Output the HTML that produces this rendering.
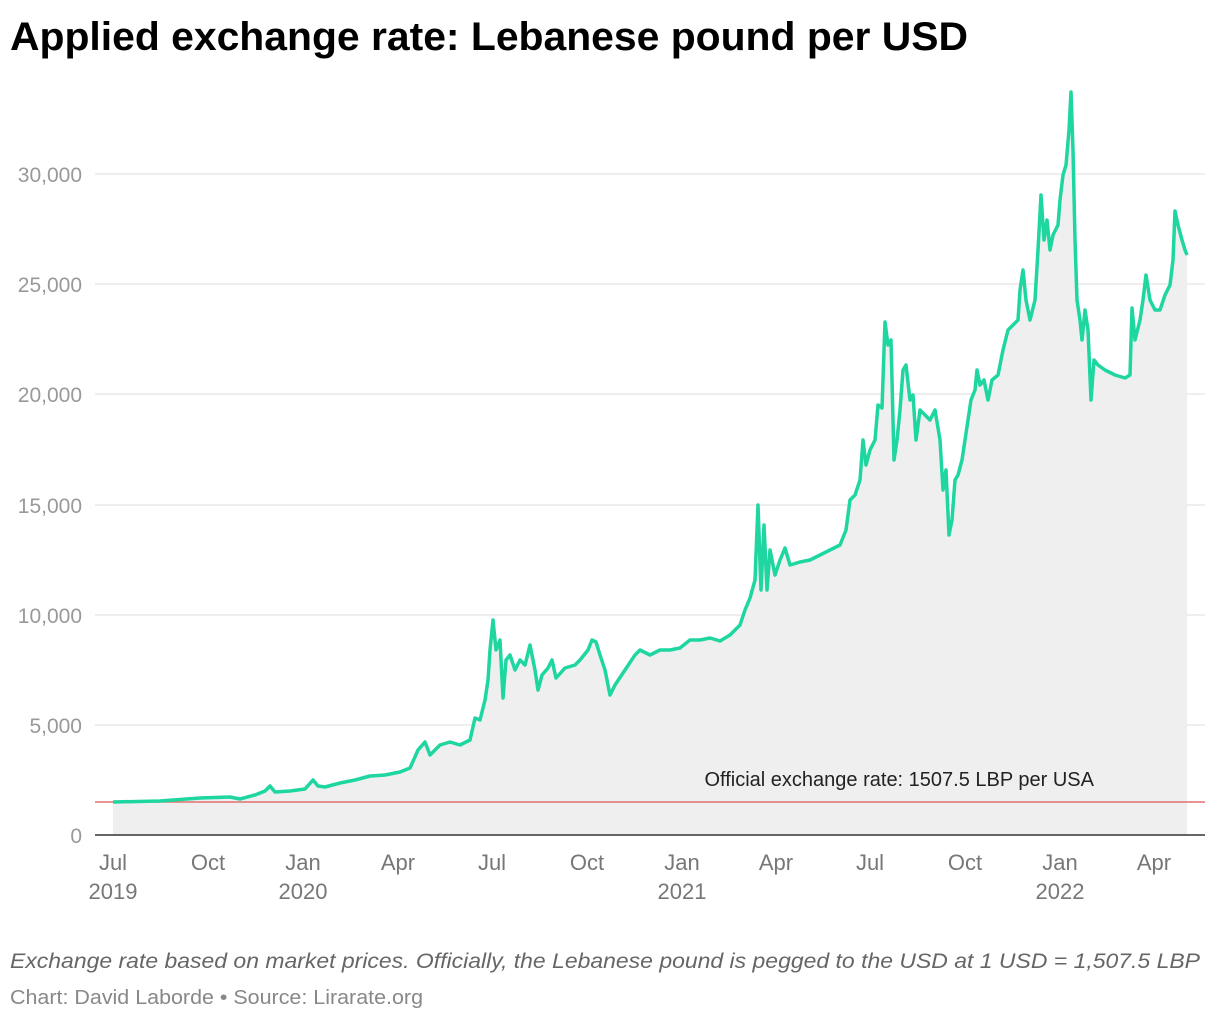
<!DOCTYPE html>
<html><head><meta charset="utf-8"><style>
body{margin:0;background:#fff;width:1220px;height:1020px;overflow:hidden;font-family:"Liberation Sans",sans-serif;}
</style></head><body>
<svg width="1220" height="1020" xmlns="http://www.w3.org/2000/svg" style="position:absolute;left:0;top:0">
<text x="10" y="50" font-size="40" font-weight="bold" fill="#000" textLength="958" lengthAdjust="spacingAndGlyphs" font-family="Liberation Sans, sans-serif">Applied exchange rate: Lebanese pound per USD</text>
<g stroke="#dcdcdc" stroke-width="1">
<line x1="95" x2="1205" y1="174" y2="174"/><line x1="95" x2="1205" y1="284" y2="284"/>
<line x1="95" x2="1205" y1="394" y2="394"/><line x1="95" x2="1205" y1="505" y2="505"/>
<line x1="95" x2="1205" y1="615" y2="615"/><line x1="95" x2="1205" y1="725" y2="725"/>
</g>
<g font-size="21" fill="#999" text-anchor="end" font-family="Liberation Sans, sans-serif">
<text x="82" y="182">30,000</text><text x="82" y="292">25,000</text><text x="82" y="402">20,000</text>
<text x="82" y="513">15,000</text><text x="82" y="623">10,000</text><text x="82" y="733">5,000</text><text x="82" y="843">0</text>
</g>
<polygon fill="#efefef" points="113,835 113,802 160,801 200,798 230,797 240,799 255,795 265,791 270,786 275,792 290,791 305,789 313,780 318,786 325,787 340,783 355,780 370,776 385,775 400,772 410,768 418,750 425,742 430,755 440,745 450,742 460,745 470,740 475,718 480,720 485,700 488,680 490,650 493,620 496,650 500,640 503,698 506,660 510,655 515,670 520,660 525,665 530,645 535,670 538,690 542,675 548,668 552,660 556,678 565,668 575,665 580,660 588,650 592,640 596,642 600,655 605,670 610,695 615,685 625,670 635,655 640,650 650,655 660,650 670,650 680,648 690,640 700,640 710,638 720,641 730,635 740,625 745,610 750,598 755,580 758,505 761,590 764,525 767,590 770,550 775,575 780,560 785,548 790,565 800,562 810,560 820,555 830,550 840,545 846,530 850,500 855,495 860,480 863,440 866,465 870,450 875,440 878,405 882,408 885,322 888,345 891,340 894,460 897,440 900,410 903,370 906,365 910,400 913,395 916,440 920,410 925,415 930,420 935,410 940,440 943,490 946,470 949,535 952,520 955,480 958,475 962,460 965,440 968,420 971,400 975,390 977,370 980,385 984,380 988,400 992,380 998,375 1003,350 1008,330 1013,325 1018,320 1020,290 1023,270 1026,300 1030,320 1035,300 1038,250 1041,195 1044,240 1047,220 1050,250 1053,235 1058,225 1060,200 1063,175 1066,165 1069,130 1071,92 1073,150 1075,240 1077,300 1080,320 1082,340 1085,310 1088,330 1091,400 1094,360 1098,365 1105,370 1115,375 1125,378 1130,375 1132,308 1135,340 1140,320 1143,300 1146,275 1150,300 1155,310 1160,310 1165,295 1170,285 1173,260 1175,211 1178,225 1182,240 1185,250 1187,255 1187,835"/>
<line x1="95" x2="1205" y1="802" y2="802" stroke="#e07070" stroke-width="1.5"/>
<text x="1094" y="786" font-size="20" text-anchor="end" fill="#222" font-family="Liberation Sans, sans-serif">Official exchange rate: 1507.5 LBP per USA</text>
<polyline fill="none" stroke="#1ed6a0" stroke-width="3.5" stroke-linejoin="round" points="113,802 160,801 200,798 230,797 240,799 255,795 265,791 270,786 275,792 290,791 305,789 313,780 318,786 325,787 340,783 355,780 370,776 385,775 400,772 410,768 418,750 425,742 430,755 440,745 450,742 460,745 470,740 475,718 480,720 485,700 488,680 490,650 493,620 496,650 500,640 503,698 506,660 510,655 515,670 520,660 525,665 530,645 535,670 538,690 542,675 548,668 552,660 556,678 565,668 575,665 580,660 588,650 592,640 596,642 600,655 605,670 610,695 615,685 625,670 635,655 640,650 650,655 660,650 670,650 680,648 690,640 700,640 710,638 720,641 730,635 740,625 745,610 750,598 755,580 758,505 761,590 764,525 767,590 770,550 775,575 780,560 785,548 790,565 800,562 810,560 820,555 830,550 840,545 846,530 850,500 855,495 860,480 863,440 866,465 870,450 875,440 878,405 882,408 885,322 888,345 891,340 894,460 897,440 900,410 903,370 906,365 910,400 913,395 916,440 920,410 925,415 930,420 935,410 940,440 943,490 946,470 949,535 952,520 955,480 958,475 962,460 965,440 968,420 971,400 975,390 977,370 980,385 984,380 988,400 992,380 998,375 1003,350 1008,330 1013,325 1018,320 1020,290 1023,270 1026,300 1030,320 1035,300 1038,250 1041,195 1044,240 1047,220 1050,250 1053,235 1058,225 1060,200 1063,175 1066,165 1069,130 1071,92 1073,150 1075,240 1077,300 1080,320 1082,340 1085,310 1088,330 1091,400 1094,360 1098,365 1105,370 1115,375 1125,378 1130,375 1132,308 1135,340 1140,320 1143,300 1146,275 1150,300 1155,310 1160,310 1165,295 1170,285 1173,260 1175,211 1178,225 1182,240 1185,250 1187,255"/>
<line x1="95" x2="1205" y1="835" y2="835" stroke="#333" stroke-width="1.5"/>
<g font-size="22" fill="#777" text-anchor="middle" font-family="Liberation Sans, sans-serif">
<text x="113" y="870">Jul</text><text x="113" y="899">2019</text>
<text x="208" y="870">Oct</text>
<text x="303" y="870">Jan</text><text x="303" y="899">2020</text>
<text x="398" y="870">Apr</text>
<text x="492" y="870">Jul</text>
<text x="587" y="870">Oct</text>
<text x="682" y="870">Jan</text><text x="682" y="899">2021</text>
<text x="776" y="870">Apr</text>
<text x="870" y="870">Jul</text>
<text x="965" y="870">Oct</text>
<text x="1060" y="870">Jan</text><text x="1060" y="899">2022</text>
<text x="1154" y="870">Apr</text>
</g>
<text x="10" y="968" font-size="21.5" font-style="italic" fill="#666" textLength="1190" lengthAdjust="spacingAndGlyphs" font-family="Liberation Sans, sans-serif">Exchange rate based on market prices. Officially, the Lebanese pound is pegged to the USD at 1 USD = 1,507.5 LBP</text>
<text x="10" y="1004" font-size="20" fill="#888" textLength="413" lengthAdjust="spacingAndGlyphs" font-family="Liberation Sans, sans-serif">Chart: David Laborde • Source: Lirarate.org</text>
</svg>
</body></html>
